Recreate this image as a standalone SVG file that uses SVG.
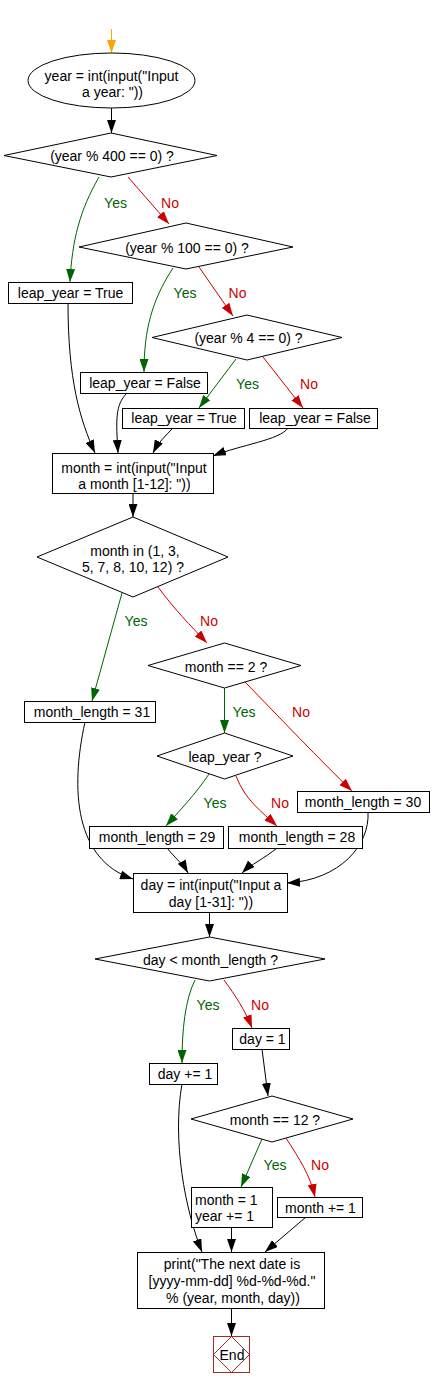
<svg xmlns="http://www.w3.org/2000/svg" width="432" height="1388" viewBox="0 0 432 1388">
<style>
  .n { fill: #fff; stroke: #000; stroke-width: 1; }
  .t { font-family: "Liberation Sans", Arial, sans-serif; font-size: 14px; fill: #000; text-anchor: middle; }
  .tl { font-family: "Liberation Sans", Arial, sans-serif; font-size: 14px; fill: #000; text-anchor: start; }
  .e { fill: none; stroke: #000; stroke-width: 1; marker-end: url(#ab); }
  .y { fill: none; stroke: #006400; stroke-width: 1; marker-end: url(#ag); }
  .r { fill: none; stroke: #cc0000; stroke-width: 1; marker-end: url(#ar); }
  .o { fill: none; stroke: #ffa500; stroke-width: 1; marker-end: url(#ao); }
  .ly { font-family: "Liberation Sans", Arial, sans-serif; font-size: 14px; fill: #006400; text-anchor: middle; }
  .lr { font-family: "Liberation Sans", Arial, sans-serif; font-size: 14px; fill: #cc0000; text-anchor: middle; }
  .end { fill: #fff; stroke: #a52a2a; stroke-width: 1; }
</style>
<defs>
  <marker id="ab" markerUnits="userSpaceOnUse" markerWidth="13" markerHeight="9" refX="13" refY="4.5" orient="auto"><path d="M0,0 L13,4.5 L0,9 z" fill="#000"/></marker>
  <marker id="ag" markerUnits="userSpaceOnUse" markerWidth="13" markerHeight="9" refX="13" refY="4.5" orient="auto"><path d="M0,0 L13,4.5 L0,9 z" fill="#006400"/></marker>
  <marker id="ar" markerUnits="userSpaceOnUse" markerWidth="13" markerHeight="9" refX="13" refY="4.5" orient="auto"><path d="M0,0 L13,4.5 L0,9 z" fill="#cc0000"/></marker>
  <marker id="ao" markerUnits="userSpaceOnUse" markerWidth="13" markerHeight="9" refX="13" refY="4.5" orient="auto"><path d="M0,0 L13,4.5 L0,9 z" fill="#ffa500"/></marker>
</defs>
<rect width="432" height="1388" fill="#fff"/>

<g id="connectors">
  <path class="o" d="M111.5,29 L111.5,53"/>
  <path class="e" d="M111.5,108 L111.5,133"/>
  <path class="y" d="M99,177 C80,210 72,240 70,282"/>
  <path class="r" d="M128,177 L169,224"/>
  <path class="y" d="M173,268 C152,300 144,330 144,372"/>
  <path class="r" d="M199,267 L233,316"/>
  <path class="y" d="M236,359 L199,408"/>
  <path class="r" d="M263,357 L303,408"/>
  <path class="e" d="M68,303 C68,380 80,420 95,453"/>
  <path class="e" d="M127,393 C115,405 116,420 118,453"/>
  <path class="e" d="M173,428 C165,436 158,443 153,453"/>
  <path class="e" d="M288,428 C280,440 240,445 213,456"/>
  <path class="e" d="M133,493 L133,517"/>
  <path class="y" d="M122,593 L92,701"/>
  <path class="r" d="M158,587 C175,610 190,625 207,643"/>
  <path class="y" d="M224.5,688 L224.5,733"/>
  <path class="r" d="M245,682 C280,718 320,760 352,791"/>
  <path class="y" d="M209,774 C195,795 180,810 166,826"/>
  <path class="r" d="M236,776 C245,800 262,812 277,826"/>
  <path class="e" d="M85,722 C70,790 75,860 133,879"/>
  <path class="e" d="M167,848 C175,858 183,864 188,873"/>
  <path class="e" d="M277,848 C265,858 250,865 242,873"/>
  <path class="e" d="M368,812 C370,845 340,880 287,883"/>
  <path class="e" d="M209.5,912 L209.5,937"/>
  <path class="y" d="M195,980 C185,1000 182,1030 182,1063"/>
  <path class="r" d="M224,980 C235,995 245,1010 252,1028"/>
  <path class="e" d="M262,1049 L268,1096"/>
  <path class="y" d="M262,1139 L241,1187"/>
  <path class="r" d="M286,1138 C300,1160 310,1175 315,1197"/>
  <path class="e" d="M182,1084 C172,1140 185,1210 202,1252"/>
  <path class="e" d="M231.5,1227 L231.5,1252"/>
  <path class="e" d="M306,1217 L265,1252"/>
  <path class="e" d="M231.5,1308 L231.5,1336"/>
  <text class="ly" x="115.5" y="208">Yes</text>
  <text class="lr" x="170" y="208">No</text>
  <text class="ly" x="185" y="298">Yes</text>
  <text class="lr" x="237.5" y="298">No</text>
  <text class="ly" x="247.5" y="389">Yes</text>
  <text class="lr" x="309" y="389">No</text>
  <text class="ly" x="136" y="626">Yes</text>
  <text class="lr" x="209" y="626">No</text>
  <text class="ly" x="244" y="717">Yes</text>
  <text class="lr" x="301" y="717">No</text>
  <text class="ly" x="215" y="808">Yes</text>
  <text class="lr" x="280" y="808">No</text>
  <text class="ly" x="208" y="1010">Yes</text>
  <text class="lr" x="260" y="1010">No</text>
  <text class="ly" x="275" y="1170">Yes</text>
  <text class="lr" x="320" y="1170">No</text>
</g>

<g id="n_year">
  <ellipse class="n" cx="111.5" cy="80.5" rx="83.5" ry="27.5"/>
  <text class="t" x="111.5" y="81">year = int(input("Input</text>
  <text class="t" x="112.5" y="97">a year: "))</text>
</g>
<g id="d_400">
  <polygon class="n" points="111,133 217,155.5 111,177 4,155.5"/>
  <text class="t" x="112" y="161">(year % 400 == 0) ?</text>
</g>
<g id="n_ly_true1">
  <rect class="n" x="8.5" y="282.5" width="124" height="21"/>
  <text class="t" x="70.5" y="298">leap_year = True</text>
</g>
<g id="d_100">
  <polygon class="n" points="186,223 293,247 186,269 79,247"/>
  <text class="t" x="187" y="253">(year % 100 == 0) ?</text>
</g>
<g id="d_4">
  <polygon class="n" points="247,315 342,337.5 247,360 152,337.5"/>
  <text class="t" x="248.5" y="343">(year % 4 == 0) ?</text>
</g>
<g id="n_ly_false1">
  <rect class="n" x="80.5" y="372.5" width="127" height="21"/>
  <text class="t" x="145" y="388">leap_year = False</text>
</g>
<g id="n_ly_true2">
  <rect class="n" x="122.5" y="408.5" width="122" height="20"/>
  <text class="t" x="184" y="423">leap_year = True</text>
</g>
<g id="n_ly_false2">
  <rect class="n" x="249.5" y="408.5" width="128" height="20"/>
  <text class="t" x="315" y="423">leap_year = False</text>
</g>
<g id="n_month">
  <rect class="n" x="52.5" y="453.5" width="161" height="40"/>
  <text class="t" x="134" y="473">month = int(input("Input</text>
  <text class="t" x="134.5" y="489">a month [1-12]: "))</text>
</g>
<g id="d_month31">
  <polygon class="n" points="133,517 228,557 133,597 37,557"/>
  <text class="t" x="135" y="556">month in (1, 3,</text>
  <text class="t" x="133" y="572">5, 7, 8, 10, 12) ?</text>
</g>
<g id="d_month2">
  <polygon class="n" points="224.5,643 301,665.5 224.5,688 148,665.5"/>
  <text class="t" x="226" y="672">month == 2 ?</text>
</g>
<g id="n_ml31">
  <rect class="n" x="24.5" y="701.5" width="131" height="21"/>
  <text class="t" x="92" y="717">month_length = 31</text>
</g>
<g id="d_leap">
  <polygon class="n" points="224.5,733 293,756 224.5,779 157,756"/>
  <text class="t" x="225" y="762">leap_year ?</text>
</g>
<g id="n_ml30">
  <rect class="n" x="297.5" y="791.5" width="132" height="21"/>
  <text class="t" x="363" y="807">month_length = 30</text>
</g>
<g id="n_ml29">
  <rect class="n" x="89.5" y="826.5" width="134" height="22"/>
  <text class="t" x="157" y="842">month_length = 29</text>
</g>
<g id="n_ml28">
  <rect class="n" x="228.5" y="826.5" width="134" height="22"/>
  <text class="t" x="297" y="842">month_length = 28</text>
</g>
<g id="n_day">
  <rect class="n" x="133.5" y="873.5" width="154" height="39"/>
  <text class="t" x="211" y="890">day = int(input("Input a</text>
  <text class="t" x="211" y="907">day [1-31]: "))</text>
</g>
<g id="d_daylen">
  <polygon class="n" points="209.5,937 325,959 209.5,981 95,959"/>
  <text class="t" x="210.5" y="965">day &lt; month_length ?</text>
</g>
<g id="n_day1">
  <rect class="n" x="232.5" y="1028.5" width="57" height="21"/>
  <text class="t" x="262.5" y="1044">day = 1</text>
</g>
<g id="n_dayinc">
  <rect class="n" x="149.5" y="1063.5" width="68" height="21"/>
  <text class="t" x="185" y="1079">day += 1</text>
</g>
<g id="d_month12">
  <polygon class="n" points="272,1096 353,1119 272,1142 191,1119"/>
  <text class="t" x="275" y="1125">month == 12 ?</text>
</g>
<g id="n_month1">
  <rect class="n" x="191.5" y="1187.5" width="81" height="40"/>
  <text class="tl" x="195" y="1205">month = 1</text>
  <text class="tl" x="195" y="1221">year += 1</text>
</g>
<g id="n_monthinc">
  <rect class="n" x="277.5" y="1197.5" width="85" height="20"/>
  <text class="t" x="320.5" y="1213">month += 1</text>
</g>
<g id="n_print">
  <rect class="n" x="137.5" y="1252.5" width="187" height="56"/>
  <text class="t" x="232" y="1269">print("The next date is</text>
  <text class="t" x="232" y="1286">[yyyy-mm-dd] %d-%d-%d."</text>
  <text class="t" x="233" y="1303">% (year, month, day))</text>
</g>
<g id="n_end">
  <rect class="end" x="213.5" y="1336.5" width="36" height="36"/>
  <polygon class="end" points="231.5,1336.5 249.5,1354.5 231.5,1372.5 213.5,1354.5"/>
  <text class="t" x="232" y="1360">End</text>
</g>
</svg>
